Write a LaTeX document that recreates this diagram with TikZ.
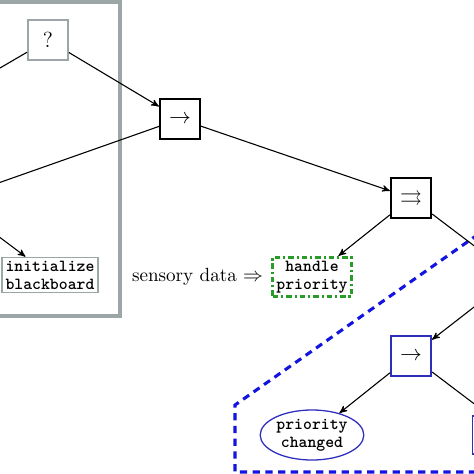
\documentclass[tikz,border=0pt]{standalone}
\usepackage{amssymb}
\usetikzlibrary{arrows}
\usetikzlibrary{shapes}
\usetikzlibrary{positioning}
\definecolor{framegray}{RGB}{156,166,166}
\definecolor{prioGreen}{RGB}{40,155,40}
\definecolor{boxblue}{RGB}{45,45,190}
\definecolor{zoneblue}{RGB}{20,20,225}

\begin{document}
\begin{tikzpicture}[x=0.55pt,y=-0.55pt,>=stealth',
			ctrl/.style={draw,line width=1.2pt,minimum size=22pt,inner sep=0pt,font=\large},
			act/.style={draw,align=center,inner sep=2pt,
				font=\fontsize{9.3}{9.8}\selectfont\ttfamily\bfseries},
			edge/.style={->,line width=0.6pt}]
			\useasboundingbox (0,0) rectangle (474,474);
			% The grey frame round the start-up part
			\draw[framegray,line width=1.8pt] (-20,2) rectangle (120,316);
			% Blue zone (left edge only, the rest lies off the page)
			\draw[zoneblue,line width=1.7pt,dash pattern=on 4pt off 3pt]
					(520,205) -- (235,405) -- (235,472) -- (520,472);

			\node[ctrl,draw=framegray,line width=1pt] (fallback) at (48,40) {?};
			\node[ctrl] (seq) at (180,119) {$\rightarrow$};
			\node[ctrl] (par) at (411,198) {$\rightrightarrows$};
			\node[ctrl,draw=boxblue] (seqB) at (411,356) {$\rightarrow$};
			\node[act,draw=framegray,line width=0.7pt] (init) at (50,275) {initialize\\blackboard};
			\node[act,draw=prioGreen,line width=1.7pt,
					dash pattern=on 3pt off 1.6pt on 1.2pt off 1.6pt] (handle) at (312,277) {handle\\priority};
			\node[left=1pt of handle,font=\fontsize{10.5}{12}\selectfont] (sensors) {sensory data $\Rightarrow$};
			\node[act,ellipse,draw=boxblue,line width=0.7pt,minimum width=57pt,
					minimum height=27.5pt,inner sep=0pt] (changed) at (312,435) {priority\\changed};
			\node[draw=boxblue,line width=0.7pt,anchor=west,minimum width=47pt,
					minimum height=21pt] (next) at (472,435) {};

			% children that lie outside the page
			\coordinate (fbkid) at (-60,103);
			\coordinate (seqkid) at (-50,200);
			\coordinate (cond) at (514,276);

			\draw[edge] (fallback) -- (fbkid);
			\draw[edge] (fallback) -- (seq);
			\draw[edge] (seq) -- (seqkid);
			\draw[edge] (seqkid) -- (init);
			\draw[edge] (seq) -- (par);
			\draw[edge] (par) -- (handle);
			\draw[edge] (par) -- (cond);
			\draw[edge] (cond) -- (seqB);
			\draw[edge] (seqB) -- (changed);
			\draw[edge] (seqB) -- (next);
		\end{tikzpicture}
\end{document}
